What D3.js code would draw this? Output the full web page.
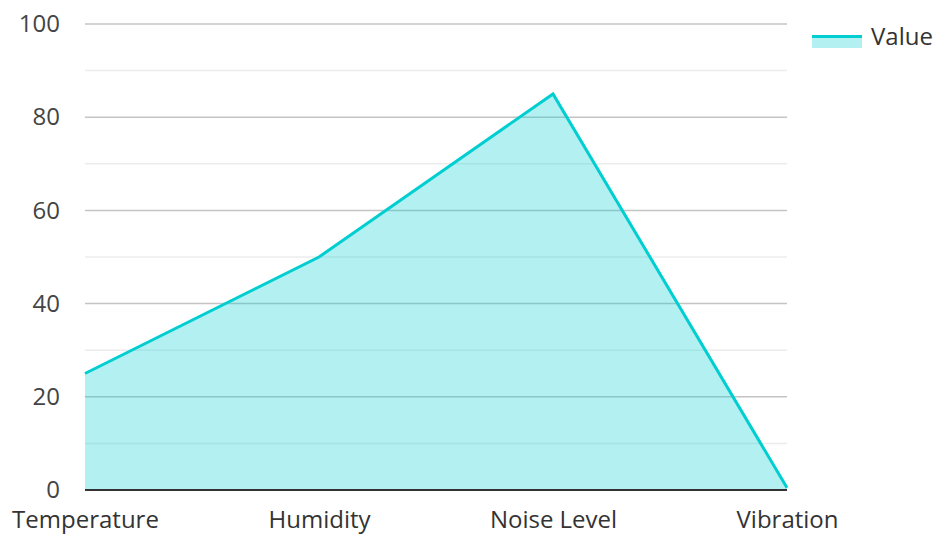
<!DOCTYPE html>
<html><head><meta charset="utf-8">
<script src="https://cdn.jsdelivr.net/npm/d3@7"></script>
<style>body{margin:0;background:#fff;font-family:"Open Sans",sans-serif;}</style>
</head><body>
<svg id="c" width="937" height="534"></svg>
<script>
const categories = ["Temperature","Humidity","Noise Level","Vibration"];
const values = [25, 50, 85, 0.5];
const majorTicks = [0,20,40,60,80,100];
const minorTicks = [10,30,50,70,90];
const seriesName = "Value";
const color = "#00CED1";

const svg = d3.select("#c");
const m = {l:85, r:150, t:24, b:44};
const W = 937, H = 534;
const x = d3.scalePoint().domain(categories).range([m.l, W - m.r]);
const y = d3.scaleLinear().domain([0,100]).range([H - m.b, m.t]);

const g = svg.append("g");
g.selectAll(".minor").data(minorTicks).enter().append("line")
  .attr("x1", m.l).attr("x2", W - m.r).attr("y1", d=>y(d)).attr("y2", d=>y(d))
  .attr("stroke", "#ececec").attr("stroke-width", 1.5);
g.selectAll(".major").data(majorTicks.filter(d=>d>0)).enter().append("line")
  .attr("x1", m.l).attr("x2", W - m.r).attr("y1", d=>y(d)).attr("y2", d=>y(d))
  .attr("stroke", "#c4c4c4").attr("stroke-width", 1.5);

const data = categories.map((c,i)=>({c, v: values[i]}));
const area = d3.area().x(d=>x(d.c)).y0(y(0)).y1(d=>y(d.v));
const line = d3.line().x(d=>x(d.c)).y(d=>y(d.v));
svg.append("path").datum(data).attr("d", area).attr("fill", color).attr("fill-opacity", 0.3);
svg.append("path").datum(data).attr("d", line).attr("fill", "none").attr("stroke", color).attr("stroke-width", 3);

// x axis
const xAxis = svg.append("g").attr("transform", `translate(0,${y(0)})`)
  .call(d3.axisBottom(x).tickSize(0).tickPadding(21));
xAxis.select(".domain").attr("stroke", "#333").attr("stroke-width", 2).attr("d", `M${m.l},0H${W-m.r}`);
xAxis.selectAll("text").attr("font-size", 24).attr("fill", "#333").attr("font-family", "Open Sans");

// y axis
const yAxis = svg.append("g").attr("transform", `translate(${m.l},0)`)
  .call(d3.axisLeft(y).tickValues(majorTicks).tickSize(0).tickPadding(25));
yAxis.select(".domain").remove();
yAxis.selectAll("text").attr("font-size", 24).attr("fill", "#444").attr("font-family", "Open Sans");

// legend
const lg = svg.append("g").attr("transform", "translate(812,35)");
lg.append("rect").attr("x",0).attr("y",0).attr("width",50).attr("height",13).attr("fill", color).attr("fill-opacity",0.3);
lg.append("line").attr("x1",0).attr("x2",50).attr("y1",1.5).attr("y2",1.5).attr("stroke",color).attr("stroke-width",3);
lg.append("text").attr("x",59).attr("y",10).attr("font-size",24).attr("fill","#333").attr("font-family","Open Sans").text(seriesName);
</script>
</body></html>
